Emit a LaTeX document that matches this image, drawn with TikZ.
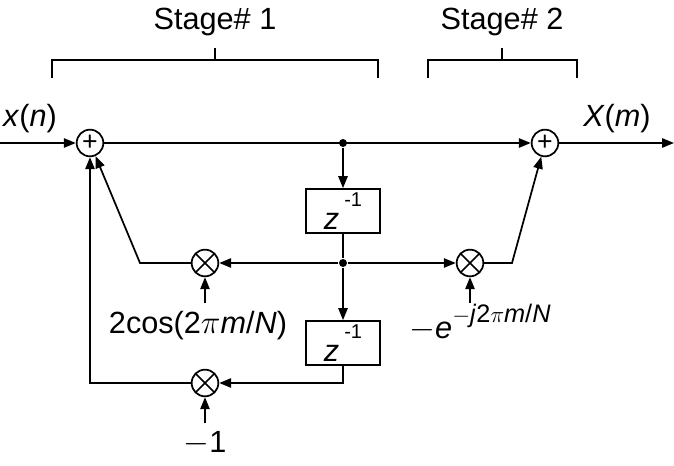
\documentclass[tikz,border=0pt]{standalone}
\usepackage{fontspec}
\setmainfont{Liberation Sans}
\usetikzlibrary{arrows.meta}
\begin{document}
\begin{tikzpicture}[x=0.75pt,y=-0.75pt,line width=1.3pt,
  >={Triangle[length=9pt,width=7pt]},
  add/.style={circle,draw,minimum size=20pt,inner sep=0pt,font=\fontsize{20}{20}\selectfont},
  mul/.style={circle,draw,minimum size=20pt,inner sep=0pt,path picture={
    \draw ([shift={(-7pt,-7pt)}]path picture bounding box.center)--([shift={(7pt,7pt)}]path picture bounding box.center)
          ([shift={(-7pt,7pt)}]path picture bounding box.center)--([shift={(7pt,-7pt)}]path picture bounding box.center);}},
  dly/.style={draw,minimum width=56pt,minimum height=33pt,inner sep=0pt},
  lbl/.style={font=\fontsize{23}{26}\selectfont},
  dot/.style={circle,fill,inner sep=0pt,minimum size=6pt}]
\useasboundingbox (0,0) rectangle (674,466);
% brackets
\node[lbl] (s1) at (215,22) {Stage\# 1};
\node[lbl] (s2) at (502,22) {Stage\# 2};
\draw (52,78)--(52,60)--(378,60)--(378,78) (215,60)--(215,48);
\draw (428,78)--(428,60)--(577,60)--(577,78) (502,60)--(502,48);
% nodes
\node[add] (a1) at (90,143) {\raisebox{0.5pt}{+}};
\node[add] (a2) at (545,143) {\raisebox{0.5pt}{+}};
\node[dot] (d1) at (343,143) {};
\node[dly] (z1) at (343,211) {\fontsize{23}{26}\selectfont\textit{z}\,\raisebox{1.4ex}{\fontsize{15}{16}\selectfont -1}};
\node[dot] (d2) at (343,263) {};
\node[dly] (z2) at (343,343) {\fontsize{23}{26}\selectfont\textit{z}\,\raisebox{1.4ex}{\fontsize{15}{16}\selectfont -1}};
\node[mul] (m1) at (205,263) {};
\node[mul] (m2) at (470,263) {};
\node[mul] (m3) at (205,383) {};
\coordinate (in) at (0,143);
\coordinate (out) at (674,143);
\node[lbl] (xn) at (30,119) {\textit{x}(\textit{n})};
\node[lbl] (Xm) at (617,119) {\textit{X}(\textit{m})};
\node[lbl] (c1) at (198,326) {2cos(2$\pi$\textit{m}/\textit{N})};
\node[lbl] (c2) at (480,323) {$-$\textit{e}\raisebox{1.0ex}{\fontsize{19}{20}\selectfont $-$\textit{j}2$\pi$\textit{m}/\textit{N}}};
\node[lbl] (c3) at (205,443) {$-$1};
% connections
\draw[->] (in)--(a1);
\draw[->] (a1)--(a2);
\draw[->] (a2)--(out);
\draw[->] (d1)--(z1);
\draw (z1)--(d2);
\draw[->] (d2)--(z2);
\draw[->] (d2)--(m1);
\draw[->] (d2)--(m2);
\draw[->] (m1)--(140,263)--(a1);
\draw[->] (m2)--(512,263)--(a2);
\draw[->] (z2.south)--(343,383)--(m3);
\draw[->] (m3)--(90,383)--(a1);
\draw[->] (205,303)--(m1);
\draw[->] (470,303)--(m2);
\draw[->] (205,423)--(m3);
\end{tikzpicture}
\end{document}
